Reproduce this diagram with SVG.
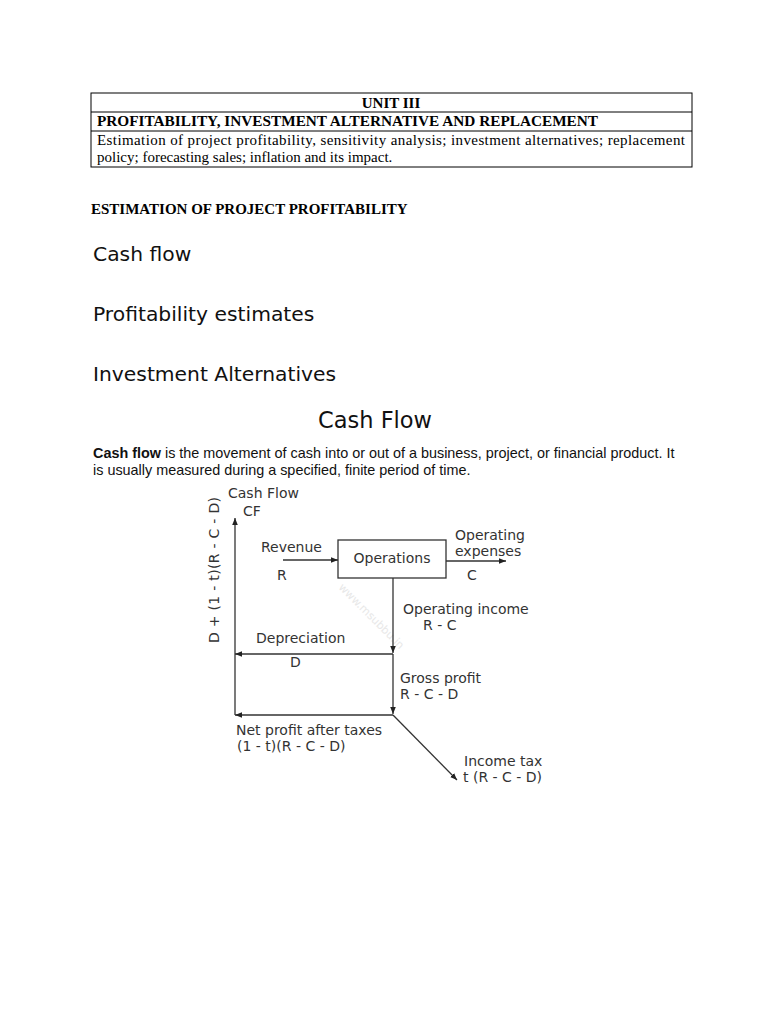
<svg xmlns="http://www.w3.org/2000/svg" width="768" height="1024" viewBox="0 0 768 1024">
<defs>
<style>
.tb{font-family:"Liberation Serif",serif;font-size:15px;font-weight:bold;fill:#000}
.tr{font-family:"Liberation Serif",serif;font-size:15px;fill:#000}
.big{font-family:"DejaVu Sans",sans-serif;font-size:20.3px;fill:#111}
.para{font-family:"Liberation Sans",sans-serif;font-size:14.4px;fill:#111}
.d{font-family:"DejaVu Sans",sans-serif;font-size:14px;fill:#333}
.ln{stroke:#333;stroke-width:1.3;fill:none}
</style>
<marker id="ah" viewBox="0 0 10 10" refX="10" refY="5" markerWidth="7" markerHeight="7" orient="auto" markerUnits="userSpaceOnUse">
<path d="M0,1 L10,5 L0,9 Z" fill="#222"/>
</marker>
</defs>
<rect width="768" height="1024" fill="#fff"/>
<g id="table">
<rect x="91" y="93" width="601" height="74" fill="none" stroke="#000" stroke-width="1"/>
<line x1="91" y1="112" x2="692" y2="112" stroke="#000"/>
<line x1="91" y1="131" x2="692" y2="131" stroke="#000"/>
<text class="tb" x="391" y="108" text-anchor="middle">UNIT III</text>
<text class="tb" x="97" y="126" textLength="501" lengthAdjust="spacingAndGlyphs">PROFITABILITY, INVESTMENT ALTERNATIVE AND REPLACEMENT</text>
<text class="tr" x="97" y="145" textLength="588" lengthAdjust="spacing">Estimation of project profitability, sensitivity analysis; investment alternatives; replacement</text>
<text class="tr" x="97" y="162">policy; forecasting sales; inflation and its impact.</text>
</g>
<text class="tb" x="91" y="214">ESTIMATION OF PROJECT PROFITABILITY</text>
<text class="big" x="93" y="261">Cash flow</text>
<text class="big" x="93" y="321">Profitability estimates</text>
<text class="big" x="93" y="381">Investment Alternatives</text>
<text x="375" y="428" text-anchor="middle" style="font-family:'DejaVu Sans',sans-serif;font-size:22.5px;fill:#111">Cash Flow</text>
<text class="para" x="93" y="458"><tspan font-weight="bold">Cash flow</tspan> is the movement of cash into or out of a business, project, or financial product. It</text>
<text class="para" x="93" y="475">is usually measured during a specified, finite period of time.</text>
<text x="338" y="588" transform="rotate(45 338 588)" style="font-family:'DejaVu Sans',sans-serif;font-size:11px;fill:#e8e8e8">www.msubbu.in</text>
<g id="connectors">
<line class="ln" x1="235" y1="715" x2="235" y2="518" marker-end="url(#ah)"/>
<line class="ln" x1="283" y1="560" x2="338" y2="560" marker-end="url(#ah)"/>
<line class="ln" x1="446" y1="561" x2="506" y2="561" marker-end="url(#ah)"/>
<line class="ln" x1="393" y1="578" x2="393" y2="653" marker-end="url(#ah)"/>
<line class="ln" x1="393" y1="654" x2="235" y2="654" marker-end="url(#ah)"/>
<line class="ln" x1="393" y1="654" x2="393" y2="714" marker-end="url(#ah)"/>
<line class="ln" x1="393" y1="715" x2="235" y2="715" marker-end="url(#ah)"/>
<line class="ln" x1="393" y1="715" x2="457" y2="780" marker-end="url(#ah)"/>
</g>
<g id="operations">
<rect x="338" y="540" width="108" height="38" fill="#fff" stroke="#333" stroke-width="1.3"/>
<text class="d" x="392" y="563" text-anchor="middle">Operations</text>
</g>
<g id="labels">
<text class="d" x="0" y="0" transform="translate(219,643) rotate(-90)" textLength="146" lengthAdjust="spacing">D + (1 - t)(R - C - D)</text>
<text class="d" x="228" y="498">Cash Flow</text>
<text class="d" x="243" y="516">CF</text>
<text class="d" x="261" y="552">Revenue</text>
<text class="d" x="277" y="580">R</text>
<text class="d" x="455" y="540">Operating</text>
<text class="d" x="455" y="556">expenses</text>
<text class="d" x="467" y="580">C</text>
<text class="d" x="403" y="614">Operating income</text>
<text class="d" x="423" y="630">R - C</text>
<text class="d" x="256" y="643">Depreciation</text>
<text class="d" x="290" y="667">D</text>
<text class="d" x="400" y="683">Gross profit</text>
<text class="d" x="400" y="699">R - C - D</text>
<text class="d" x="236" y="735">Net profit after taxes</text>
<text class="d" x="237" y="751">(1 - t)(R - C - D)</text>
<text class="d" x="464" y="766">Income tax</text>
<text class="d" x="463" y="782">t (R - C - D)</text>
</g>
</svg>
